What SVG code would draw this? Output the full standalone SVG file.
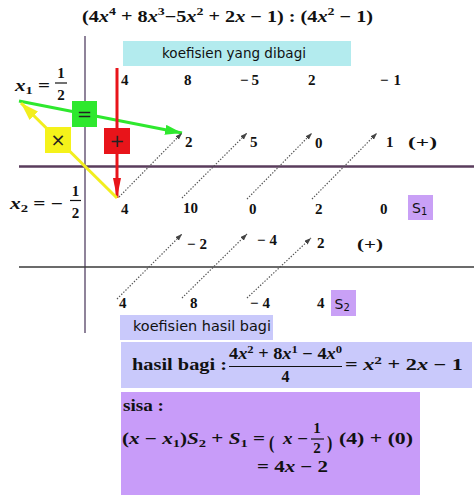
<svg xmlns="http://www.w3.org/2000/svg" width="474" height="502" viewBox="0 0 474 502">
<style>
.m{font-family:"Liberation Serif","Times New Roman",serif;font-weight:bold;font-size:16px;fill:#111}
.n{font-family:"Liberation Serif","Times New Roman",serif;font-weight:bold;font-size:15px;fill:#111}
.i{font-style:italic}
.s{font-family:"DejaVu Sans","Liberation Sans",sans-serif;font-size:14px;fill:#111}
.sym{font-family:"DejaVu Sans","Liberation Sans",sans-serif;font-size:18px;fill:#222;text-anchor:middle}
.dot{stroke:#555;stroke-width:1.2;stroke-dasharray:1.4 1.6;fill:none;marker-end:url(#ad)}
.bar{stroke:#111;stroke-width:1.2}
</style>
<defs>
<marker id="ad" markerUnits="userSpaceOnUse" markerWidth="8" markerHeight="6" refX="7" refY="2.5" orient="auto"><path d="M0,0 L7,2.5 L0,5 z" fill="#444"/></marker>
<marker id="ag" markerUnits="userSpaceOnUse" markerWidth="18" markerHeight="11" refX="17" refY="5" orient="auto"><path d="M0,0 L17,5 L0,10 z" fill="#2ee82e"/></marker>
<marker id="ar" markerUnits="userSpaceOnUse" markerWidth="21" markerHeight="9" refX="20" refY="4" orient="auto"><path d="M0,0 L20,4 L0,8 z" fill="#e8141a"/></marker>
<marker id="ay" markerUnits="userSpaceOnUse" markerWidth="19" markerHeight="13" refX="18" refY="6" orient="auto"><path d="M0,0 L18,6 L0,12 z" fill="#f2ee1e"/></marker>
</defs>

<g id="title">
<text class="m" x="82" y="22" font-size="17" textLength="291" lengthAdjust="spacingAndGlyphs">(4<tspan class="i">x</tspan><tspan dy="-7" font-size="11">4</tspan><tspan dy="7"> + 8</tspan><tspan class="i">x</tspan><tspan dy="-7" font-size="11">3</tspan><tspan dy="7">−5</tspan><tspan class="i">x</tspan><tspan dy="-7" font-size="11">2</tspan><tspan dy="7"> + 2</tspan><tspan class="i">x</tspan> − 1) : (4<tspan class="i">x</tspan><tspan dy="-7" font-size="11">2</tspan><tspan dy="7"> − 1)</tspan></text>
</g>

<g id="grid">
<line x1="85" y1="36" x2="85" y2="333" stroke="#6a5a78" stroke-width="1.5"/>
<line x1="19" y1="166.5" x2="474" y2="166.5" stroke="#5a3c5c" stroke-width="2.5"/>
<line x1="19" y1="267" x2="474" y2="267" stroke="#3a3a3a" stroke-width="1.5"/>
</g>

<g id="label-dibagi">
<rect x="123" y="41" width="228" height="25" fill="#b3ebee"/>
<text class="s" x="162" y="58" textLength="144" lengthAdjust="spacingAndGlyphs">koefisien yang dibagi</text>
</g>

<g id="x1">
<text class="m" x="15" y="91" textLength="35" lengthAdjust="spacingAndGlyphs"><tspan class="i">x</tspan><tspan font-size="11" dy="3">1</tspan><tspan dy="-3"> =</tspan></text>
<text class="n" x="61" y="78" text-anchor="middle">1</text>
<line class="bar" x1="55" y1="83" x2="67" y2="83"/>
<text class="n" x="61" y="100" text-anchor="middle">2</text>
</g>

<g id="x2">
<text class="m" x="10" y="208.5" textLength="53" lengthAdjust="spacingAndGlyphs"><tspan class="i">x</tspan><tspan font-size="11" dy="3">2</tspan><tspan dy="-3"> = −</tspan></text>
<text class="n" x="75.5" y="196" text-anchor="middle">1</text>
<line class="bar" x1="70" y1="200.5" x2="81" y2="200.5"/>
<text class="n" x="75.5" y="218" text-anchor="middle">2</text>
</g>

<g id="connectors">
<line x1="19" y1="101" x2="182" y2="133" stroke="#2ee82e" stroke-width="3" marker-end="url(#ag)"/>
<line x1="117" y1="68" x2="117" y2="198" stroke="#e8141a" stroke-width="3" marker-end="url(#ar)"/>
<line x1="117" y1="198" x2="21" y2="103" stroke="#f2ee1e" stroke-width="3" marker-end="url(#ay)"/>
<line class="dot" x1="119" y1="197" x2="182" y2="133"/>
<line class="dot" x1="182" y1="198" x2="247" y2="133"/>
<line class="dot" x1="247" y1="199" x2="312" y2="133"/>
<line class="dot" x1="312" y1="199" x2="377" y2="133"/>
<line class="dot" x1="117" y1="299" x2="182" y2="234"/>
<line class="dot" x1="182" y1="298" x2="247" y2="234"/>
<line class="dot" x1="247" y1="298" x2="311" y2="238"/>
</g>

<g id="op-eq">
<rect x="72" y="101" width="25" height="26" fill="#2ee82e"/>
<text class="sym" x="84.5" y="120">=</text>
</g>
<g id="op-plus">
<rect x="104" y="128" width="26" height="26" fill="#e8141a"/>
<text class="sym" x="117" y="147">+</text>
</g>
<g id="op-times">
<rect x="45" y="127" width="26" height="26" fill="#f5f21a"/>
<text class="sym" x="58" y="146">×</text>
</g>

<g id="row1">
<text class="n" x="121" y="85">4</text>
<text class="n" x="184" y="85">8</text>
<text class="n" x="240" y="85">−<tspan dx="3">5</tspan></text>
<text class="n" x="308" y="85">2</text>
<text class="n" x="380" y="85">−<tspan dx="5">1</tspan></text>
</g>
<g id="row2">
<text class="n" x="185" y="147">2</text>
<text class="n" x="250" y="147">5</text>
<text class="n" x="315" y="148">0</text>
<text class="n" x="386" y="147">1</text>
<text class="n" x="408" y="147" font-size="16" textLength="29" lengthAdjust="spacingAndGlyphs">(+)</text>
</g>
<g id="row3">
<text class="n" x="121" y="214">4</text>
<text class="n" x="183" y="213">10</text>
<text class="n" x="249" y="214">0</text>
<text class="n" x="315" y="214">2</text>
<text class="n" x="380" y="214">0</text>
</g>
<g id="S1">
<rect x="408" y="195" width="25" height="25" fill="#c9a0f6"/>
<text class="s" x="412" y="213" font-size="15">S<tspan font-size="10" dy="2">1</tspan></text>
</g>
<g id="row4">
<text class="n" x="187" y="249">−<tspan dx="4">2</tspan></text>
<text class="n" x="257" y="245">−<tspan dx="4">4</tspan></text>
<text class="n" x="317" y="248">2</text>
<text class="n" x="357" y="249" font-size="16" textLength="26" lengthAdjust="spacingAndGlyphs">(+)</text>
</g>
<g id="row5">
<text class="n" x="119" y="308">4</text>
<text class="n" x="190" y="308">8</text>
<text class="n" x="250" y="308">−<tspan dx="4">4</tspan></text>
<text class="n" x="317" y="308">4</text>
</g>
<g id="S2">
<rect x="331" y="290" width="25" height="26" fill="#c9a0f6"/>
<text class="s" x="334.5" y="309" font-size="15">S<tspan font-size="10" dy="2">2</tspan></text>
</g>

<g id="label-hasil">
<rect x="120" y="315" width="153" height="25" fill="#c9c9fb"/>
<text class="s" x="133" y="331" textLength="138" lengthAdjust="spacingAndGlyphs">koefisien hasil bagi</text>
</g>

<g id="hasil-bagi">
<rect x="121" y="342" width="351" height="46" fill="#c9c9fb"/>
<text class="m" x="132" y="370" textLength="95" lengthAdjust="spacingAndGlyphs">hasil bagi :</text>
<text class="m" x="229" y="359" textLength="113" lengthAdjust="spacingAndGlyphs">4<tspan class="i">x</tspan><tspan dy="-6" font-size="11">2</tspan><tspan dy="6"> + 8</tspan><tspan class="i">x</tspan><tspan dy="-6" font-size="11">1</tspan><tspan dy="6"> − 4</tspan><tspan class="i">x</tspan><tspan dy="-6" font-size="11">0</tspan></text>
<line class="bar" x1="229" y1="366.5" x2="342" y2="366.5"/>
<text class="m" x="285.5" y="382" text-anchor="middle">4</text>
<text class="m" x="345" y="370" textLength="118" lengthAdjust="spacingAndGlyphs">= <tspan class="i">x</tspan><tspan dy="-6" font-size="11">2</tspan><tspan dy="6"> + 2</tspan><tspan class="i">x</tspan> − 1</text>
</g>

<g id="sisa">
<rect x="121" y="392" width="299" height="103" fill="#c89cf9"/>
<text class="m" x="123" y="411" textLength="41" lengthAdjust="spacingAndGlyphs">sisa :</text>
<text class="m" x="122" y="444" textLength="143" lengthAdjust="spacingAndGlyphs">(<tspan class="i">x</tspan> − <tspan class="i">x</tspan><tspan font-size="11" dy="3">1</tspan><tspan dy="-3">)</tspan><tspan class="i">S</tspan><tspan font-size="11" dy="3">2</tspan><tspan dy="-3"> + </tspan><tspan class="i">S</tspan><tspan font-size="11" dy="3">1</tspan><tspan dy="-3"> =</tspan></text>
<text class="m" transform="translate(269,449) scale(1,1.15)" x="0" y="0" font-size="34" font-weight="normal">(</text>
<text class="m" x="283" y="444" textLength="25" lengthAdjust="spacingAndGlyphs"><tspan class="i">x</tspan> −</text>
<text class="n" x="317" y="433" text-anchor="middle">1</text>
<line class="bar" x1="311" y1="439" x2="324" y2="439"/>
<text class="n" x="317" y="453" text-anchor="middle" font-size="14">2</text>
<text class="m" transform="translate(327,449) scale(1,1.15)" x="0" y="0" font-size="34" font-weight="normal">)</text>
<text class="m" x="339" y="444" textLength="74" lengthAdjust="spacingAndGlyphs">(4) + (0)</text>
<text class="m" x="257" y="472" textLength="71" lengthAdjust="spacingAndGlyphs">= 4<tspan class="i">x</tspan> − 2</text>
</g>
</svg>
